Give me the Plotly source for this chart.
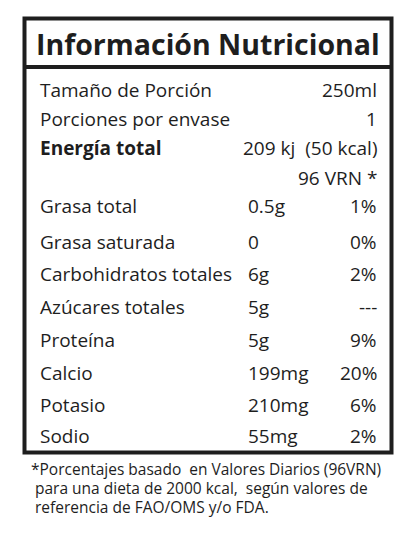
import plotly.graph_objects as go

title = "Información Nutricional"
top_labels = ["Tamaño de Porción", "Porciones por envase"]
top_values = ["250ml", "1"]
energy_label = "Energía total"
energy_value = "209 kj  (50 kcal)"
energy_vrn = "96 VRN *"
nutrients = ["Grasa total", "Grasa saturada", "Carbohidratos totales", "Azúcares totales",
             "Proteína", "Calcio", "Potasio", "Sodio"]
amounts = ["0.5g", "0", "6g", "5g", "5g", "199mg", "210mg", "55mg"]
percents = ["1%", "0%", "2%", "---", "9%", "20%", "6%", "2%"]
footnote = ["*Porcentajes basado  en Valores Diarios (96VRN)",
            " para una dieta de 2000 kcal,  según valores de",
            " referencia de FAO/OMS y/o FDA."]

FONT = "Open Sans"
C = "#1e1e1e"
O = 8  # page body margin offset
top_y = [90, 119]
nut_y = [206, 242, 274, 307, 340, 373, 405, 436]
foot_y = [469, 488, 507]

fig = go.Figure()
ann = []
def t(x, y, s, size=19, anchor="left", bold=False):
    ann.append(dict(x=x - O, y=y - O, xref="x", yref="y", text=f"<b>{s}</b>" if bold else s,
                    showarrow=False, xanchor=anchor, yanchor="middle",
                    font=dict(family=FONT, size=size, color=C)))

t(208, 44, title, size=28.5, anchor="center", bold=True)
for lab, val, y in zip(top_labels, top_values, top_y):
    t(38, y, lab); t(379, y, val, anchor="right")
t(38, 148, energy_label, bold=True)
t(379, 148, energy_value, anchor="right")
t(379, 178, energy_vrn, anchor="right")
for lab, a, p, y in zip(nutrients, amounts, percents, nut_y):
    t(38, y, lab); t(246, y, a); t(379, y, p, anchor="right")
for s, y in zip(footnote, foot_y):
    t(29, y, s, size=15.5)

fig.update_layout(
    width=416, height=534, margin=dict(l=0, r=0, t=0, b=0),
    paper_bgcolor="white", plot_bgcolor="white", annotations=ann,
    xaxis=dict(range=[0, 416], visible=False, fixedrange=True),
    yaxis=dict(range=[534, 0], visible=False, fixedrange=True),
    shapes=[
        dict(type="rect", xref="x", yref="y", x0=24.5 - O, x1=391.5 - O, y0=18.5 - O, y1=452.5 - O,
             line=dict(color=C, width=4)),
        dict(type="line", xref="x", yref="y", x0=24 - O, x1=392 - O, y0=67 - O, y1=67 - O,
             line=dict(color=C, width=4)),
    ],
    showlegend=False,
)
fig.write_html("out.html")
